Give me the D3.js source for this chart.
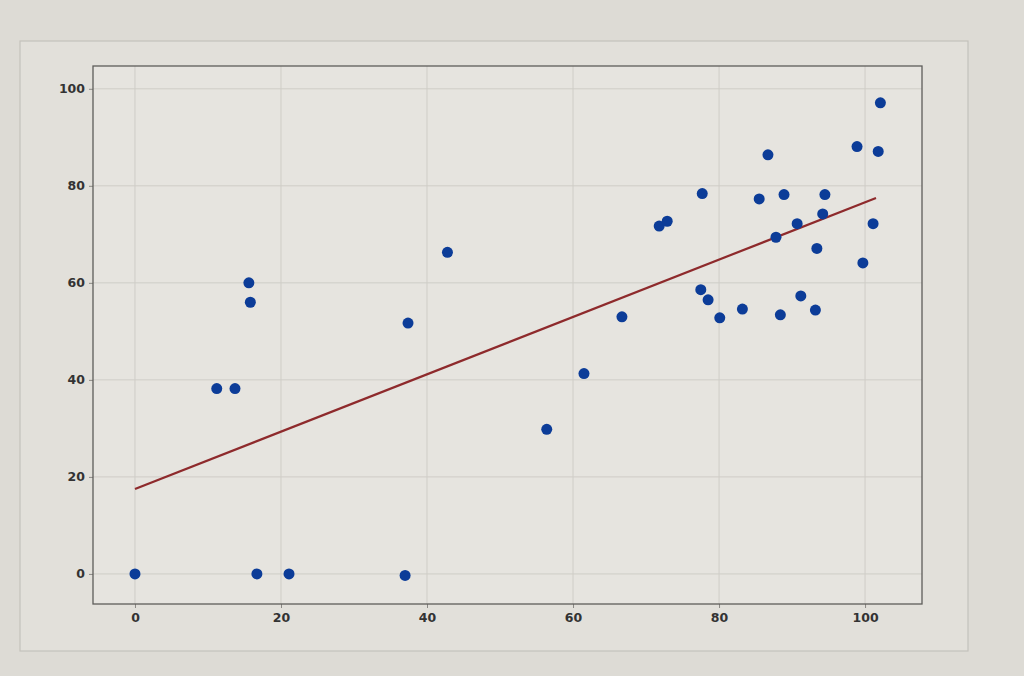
<!DOCTYPE html>
<html><head><meta charset="utf-8">
<script src="https://cdn.jsdelivr.net/npm/d3@7"></script>
<style>
html,body{margin:0;padding:0;background:#dddbd5;}
svg{display:block;}
</style></head>
<body>
<svg id="chart" width="1024" height="676"></svg>
<script>
const xValues = [0, 11.2, 13.7, 15.6, 15.8, 16.7, 21.1, 37.0, 37.4, 42.8, 56.4, 61.5, 66.7, 71.8, 72.9, 77.7, 77.5, 78.5, 80.1, 83.2, 85.5, 86.7, 87.8, 88.4, 88.9, 90.7, 91.2, 93.2, 93.4, 94.2, 94.5, 98.9, 99.7, 101.1, 101.8, 102.1];
const yValues = [0, 38.2, 38.2, 60.0, 56.0, 0, 0, -0.3, 51.7, 66.3, 29.8, 41.3, 53.0, 71.7, 72.7, 78.4, 58.6, 56.5, 52.8, 54.6, 77.3, 86.4, 69.4, 53.4, 78.2, 72.2, 57.3, 54.4, 67.1, 74.2, 78.2, 88.1, 64.1, 72.2, 87.1, 97.1];
const fitX = [0, 101.5];
const fitY = [17.5, 77.5];
const xTicks = [0, 20, 40, 60, 80, 100];
const yTicks = [0, 20, 40, 60, 80, 100];

const svg = d3.select("#chart");
const L = 93, R = 922, T = 66, B = 604;

// outer faint frame
svg.append("rect").attr("x", 20).attr("y", 41).attr("width", 948).attr("height", 610)
  .attr("fill", "#e2e0da").attr("stroke", "#c4c2bc").attr("stroke-width", 1.2);

const x = d3.scaleLinear().domain([-5.75, 107.8]).range([L, R]);
const y = d3.scaleLinear().domain([-6.2, 104.7]).range([B, T]);

svg.append("rect").attr("x", L).attr("y", T).attr("width", R - L).attr("height", B - T)
  .attr("fill", "#e6e4df");

// grid
svg.append("g").selectAll("line.gx").data(xTicks).join("line")
  .attr("x1", d => x(d)).attr("x2", d => x(d)).attr("y1", T).attr("y2", B)
  .attr("stroke", "#cfcdc7").attr("stroke-width", 1);
svg.append("g").selectAll("line.gy").data(yTicks).join("line")
  .attr("y1", d => y(d)).attr("y2", d => y(d)).attr("x1", L).attr("x2", R)
  .attr("stroke", "#cfcdc7").attr("stroke-width", 1);

// axes
const xAxis = d3.axisBottom(x).tickValues(xTicks).tickSize(4).tickPadding(5);
const yAxis = d3.axisLeft(y).tickValues(yTicks).tickSize(4).tickPadding(4);
const gx = svg.append("g").attr("transform", `translate(0,${B})`).call(xAxis);
const gy = svg.append("g").attr("transform", `translate(${L},0)`).call(yAxis);
[gx, gy].forEach(g => {
  g.select(".domain").remove();
  g.selectAll(".tick line").attr("stroke", "#8a8884");
  g.selectAll(".tick text").attr("fill", "#333333").attr("font-size", 12.5)
    .attr("font-weight", "bold")
    .attr("font-family", "DejaVu Sans, sans-serif");
});

// frame
svg.append("rect").attr("x", L).attr("y", T).attr("width", R - L).attr("height", B - T)
  .attr("fill", "none").attr("stroke", "#5e5d5a").attr("stroke-width", 1.3);

// fit line
const line = d3.line().x(d => x(d[0])).y(d => y(d[1]));
svg.append("path").datum(d3.zip(fitX, fitY)).attr("d", line)
  .attr("fill", "none").attr("stroke", "#8e2a2c").attr("stroke-width", 2.2);

// points
svg.append("g").selectAll("circle").data(d3.zip(xValues, yValues)).join("circle")
  .attr("cx", d => x(d[0])).attr("cy", d => y(d[1])).attr("r", 5.5)
  .attr("fill", "#0c3c98");
</script>
</body></html>
